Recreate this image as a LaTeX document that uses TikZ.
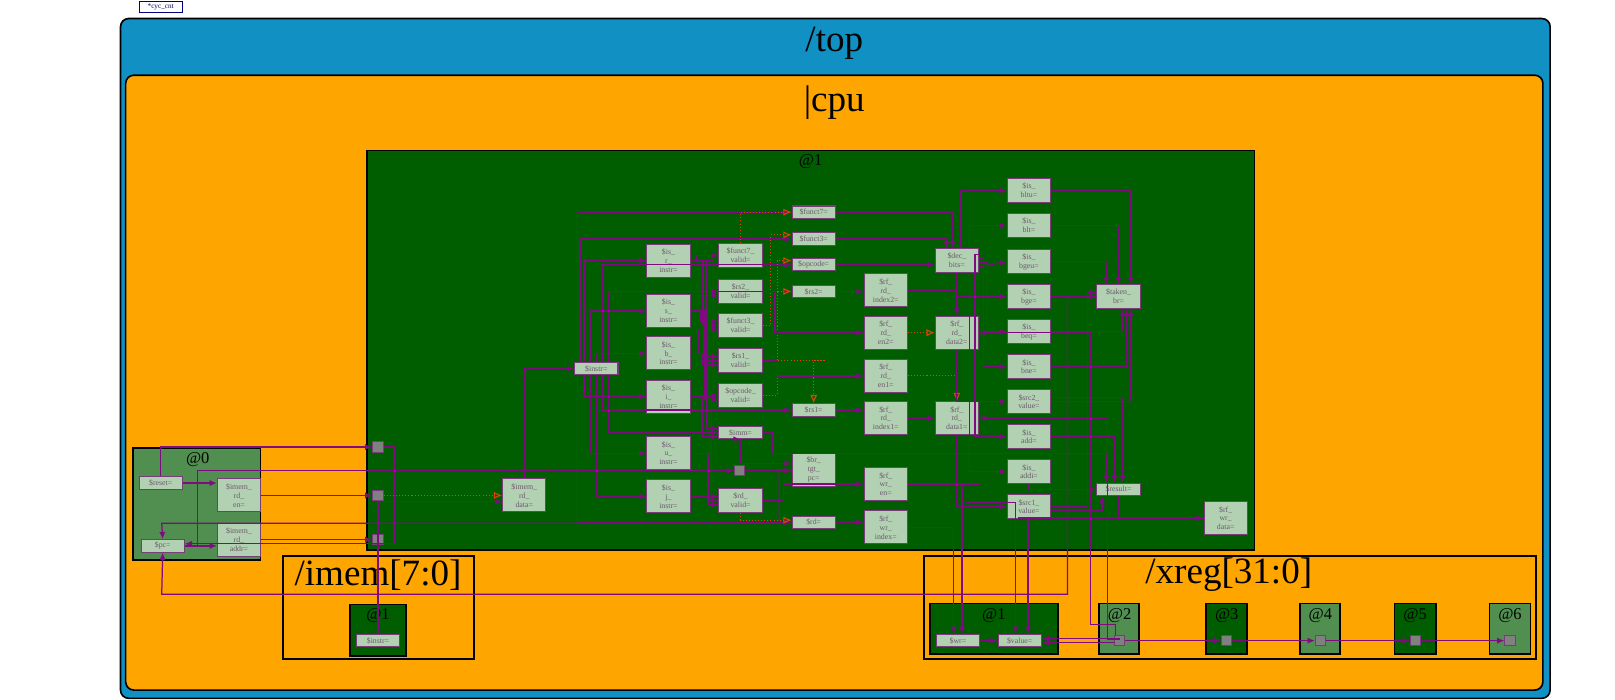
\documentclass[tikz,border=0pt]{standalone}
\usepackage{fontspec}
\setmainfont{Liberation Serif}
\usetikzlibrary{arrows.meta}
\definecolor{wire}{RGB}{128,10,128}
\definecolor{sigf}{RGB}{178,208,178}
\definecolor{sigb}{RGB}{120,60,120}
\definecolor{sigt}{RGB}{110,90,110}
\definecolor{dkg}{RGB}{0,94,0}
\definecolor{ltg}{RGB}{80,143,80}
\definecolor{org}{RGB}{255,165,0}
\definecolor{blu}{RGB}{17,144,196}
\definecolor{dotc}{RGB}{225,70,0}
\begin{document}
\begin{tikzpicture}[x=0.5pt,y=-0.5pt,
 sig/.style={draw=sigb,fill=sigf,line width=0.5pt,font=\fontsize{3.8}{4.3}\selectfont,text=sigt,align=center,inner sep=0.5pt,minimum width=21pt},
 s1/.style={sig,minimum height=6pt},
 s2/.style={sig,minimum height=11.5pt},
 s3/.style={sig,minimum height=16pt},
 e/.style={draw=wire,line width=0.6pt,-{Latex[length=3.5pt,width=3pt]}},
 d/.style={draw=dotc,densely dotted,line width=0.5pt,-{Latex[open,length=4pt,width=3.5pt]}},
 gq/.style={draw=sigb,fill=gray,minimum size=5pt,inner sep=0pt,line width=0.5pt},
 box/.style={draw=black,line width=0.8pt},
 ttl/.style={font=\fontsize{18}{18}\selectfont},
 sttl/.style={font=\fontsize{8}{8}\selectfont}]
\useasboundingbox[fill=white] (0,0) rectangle (1568,679);
% containers
\node[draw=blue!50!black,line width=0.5pt,font=\fontsize{3.5}{4}\selectfont,text=blue!40!black,minimum width=21pt,minimum height=5.5pt,inner sep=0.5pt] (cyc) at (156,6.5) {*cyc\_cnt};
\draw[box,fill=blu,rounded corners=4pt] (117,18) rectangle (1505,678);
\node[ttl] (ttop) at (810,42) {/top};
\draw[box,fill=org,rounded corners=4pt] (122,73) rectangle (1498,670);
\node[ttl] (tcpu) at (810,100) {|cpu};
\draw[box,fill=dkg] (356,146) rectangle (1218,534);
\node[sttl] (t1) at (787,157) {@1};
\draw[box,fill=ltg] (129,435) rectangle (253,544);
\node[sttl] (t0) at (192,446) {@0};
\draw[box] (275,540) rectangle (460,640);
\node[ttl] (timem) at (367,558) {/imem[7:0]};
\draw[box,fill=dkg] (340,587) rectangle (394,637);
\node[sttl] (ti1) at (367,598) {@1};
\draw[box] (897,540) rectangle (1491,640);
\node[ttl] (txreg) at (1193,558) {/xreg[31:0]};
\draw[box,fill=dkg] (903,586) rectangle (1027,635); \node[sttl] (tx1) at (965,598) {@1};
\draw[box,fill=ltg] (1067,586) rectangle (1106,635); \node[sttl] (tx2) at (1087,598) {@2};
\draw[box,fill=dkg] (1171,586) rectangle (1211,635); \node[sttl] (tx3) at (1191,598) {@3};
\draw[box,fill=ltg] (1262,586) rectangle (1301,635); \node[sttl] (tx4) at (1282,598) {@4};
\draw[box,fill=dkg] (1354,586) rectangle (1394,635); \node[sttl] (tx5) at (1374,598) {@5};
\draw[box,fill=ltg] (1446,586) rectangle (1486,635); \node[sttl] (tx6) at (1466,598) {@6};
% nodes @0
\node[s1] (reset) at (156,469) {\$reset=};
\node[s3] (imen) at (232,481) {\$imem\_\\rd\_\\en=};
\node[s1] (pc) at (158,530) {\$pc=};
\node[s3] (imaddr) at (232,524) {\$imem\_\\rd\_\\addr=};
% gray squares
\node[gq] (gq1) at (367,434) {};
\node[gq] (gq2) at (367,481) {};
\node[gq] (gq3) at (367,524) {};
\node[gq] (gq4) at (718,457) {};
% @1 nodes
\node[s3] (imdata) at (509,481) {\$imem\_\\rd\_\\data=};
\node[s1] (instr) at (579,358) {\$instr=};
\node[s3] (isr) at (649,253) {\$is\_\\r\_\\instr=};
\node[s3] (iss) at (649,302) {\$is\_\\s\_\\instr=};
\node[s3] (isb) at (649,343) {\$is\_\\b\_\\instr=};
\node[s3] (isi) at (649,385) {\$is\_\\i\_\\instr=};
\node[s3] (isu) at (649,440) {\$is\_\\u\_\\instr=};
\node[s3] (isj) at (649,482) {\$is\_\\j\_\\instr=};
\node[s2] (f7v) at (719,248) {\$funct7\_\\valid=};
\node[s2] (rs2v) at (719,283) {\$rs2\_\\valid=};
\node[s2] (f3v) at (719,316) {\$funct3\_\\valid=};
\node[s2] (rs1v) at (719,350) {\$rs1\_\\valid=};
\node[s2] (opv) at (719,384) {\$opcode\_\\valid=};
\node[s1] (imm) at (719,420) {\$imm=};
\node[s2] (rdv) at (719,486) {\$rd\_\\valid=};
\node[s1] (funct7) at (790,206) {\$funct7=};
\node[s1] (funct3) at (790,232) {\$funct3=};
\node[s1] (opcode) at (790,257) {\$opcode=};
\node[s1] (rs2) at (790,283) {\$rs2=};
\node[s1] (rs1) at (790,398) {\$rs1=};
\node[s3] (brtgt) at (790,456) {\$br\_\\tgt\_\\pc=};
\node[s1] (rd) at (790,507) {\$rd=};
\node[s3] (idx2) at (860,282) {\$rf\_\\rd\_\\index2=};
\node[s3] (en2) at (860,323) {\$rf\_\\rd\_\\en2=};
\node[s3] (en1) at (860,365) {\$rf\_\\rd\_\\en1=};
\node[s3] (idx1) at (860,406) {\$rf\_\\rd\_\\index1=};
\node[s3] (wren) at (860,470) {\$rf\_\\wr\_\\en=};
\node[s3] (wridx) at (860,512) {\$rf\_\\wr\_\\index=};
\node[s2] (dec) at (929,253) {\$dec\_\\bits=};
\node[s3] (data2) at (929,323) {\$rf\_\\rd\_\\data2=};
\node[s3] (data1) at (929,406) {\$rf\_\\rd\_\\data1=};
\node[s2] (bltu) at (999,185) {\$is\_\\bltu=};
\node[s2] (blt) at (999,219) {\$is\_\\blt=};
\node[s2] (bgeu) at (999,254) {\$is\_\\bgeu=};
\node[s2] (bge) at (999,288) {\$is\_\\bge=};
\node[s2] (beq) at (999,322) {\$is\_\\beq=};
\node[s2] (bne) at (999,356) {\$is\_\\bne=};
\node[s2] (src2) at (999,390) {\$src2\_\\value=};
\node[s2] (isadd) at (999,424) {\$is\_\\add=};
\node[s2] (isaddi) at (999,458) {\$is\_\\addi=};
\node[s2] (src1) at (999,492) {\$src1\_\\value=};
\node[s2] (taken) at (1086,288) {\$taken\_\\br=};
\node[s1] (result) at (1086,475) {\$result=};
\node[s3] (wrdata) at (1190,503) {\$rf\_\\wr\_\\data=};
% imem / xreg nodes
\node[s1] (iminstr) at (367,622) {\$instr=};
\node[s1] (wr) at (930,622) {\$wr=};
\node[s1] (value) at (990,622) {\$value=};
\node[gq] (sq2) at (1087,622) {};
\node[gq] (sq3) at (1191,622) {};
\node[gq] (sq4) at (1282,622) {};
\node[gq] (sq5) at (1374,622) {};
\node[gq] (sq6) at (1466,622) {};
\coordinate (loop) at (157,577);
\coordinate (pcup) at (157,508);
% ---- edges @0 / memory
\draw[e] (reset.east) -- (reset.east -| imen.west);
\draw[e] (reset.north) |- (gq1.west);
\draw[e] (imen) -- (gq2);
\draw[e] (imaddr) -- (gq3);
\draw[e] (pc.east) -- (pc.east -| imaddr.west);
\draw[e] (gq1.east) -- ++(10,0) |- ([yshift=1pt]pc.east);
\draw[e] (pc.east) -- ++(12,0) |- (gq4.west);
\draw[e] (brtgt.west) -- ++(-12,0) |- (pcup) -- (pc.north);
\draw[e] (taken.west) -- ++(-28,0) |- (loop) -- (pc.south);
\draw[d] (gq2) -- (imdata);
\draw[e] (iminstr.north) |- ([yshift=-3pt]imdata.west);
\draw[e] (imdata.north) |- (instr.west);
\draw[e] (gq4) -- (gq4 -| brtgt.west);
% ---- instr fan-out
\draw[e] ([xshift=-6pt]instr.north) |- (isr.west);
\draw[e] ([xshift=-3pt]instr.north) |- (iss.west);
\draw[e] ([xshift=0pt]instr.north) |- (isb.west);
\draw[e] ([xshift=-6pt]instr.south) |- (isi.west);
\draw[e] ([xshift=-3pt]instr.south) |- (isu.west);
\draw[e] ([xshift=0pt]instr.south) |- (isj.west);
\draw[e] ([xshift=-9pt]instr.north) |- (funct7.west);
\draw[e] ([xshift=-8pt]instr.north) |- (funct3.west);
\draw[e] ([xshift=3pt]instr.north) |- (opcode.west);
\draw[e] ([xshift=6pt]instr.north) |- (rs2.west);
\draw[e] ([xshift=3pt]instr.south) |- (rs1.west);
\draw[e] ([xshift=6pt]instr.south) |- (imm.west);
\draw[e] ([xshift=-9pt]instr.south) |- (rd.west);
% ---- is_* to valids
\draw[e] (isr.east) -- ++(6,0) |- (f7v.west);
\draw[e] (isr.east) -- ++(9,0) |- (rs2v.west);
\draw[e] (isr.east) -- ++(12,0) |- (f3v.west);
\draw[e] (isr.east) -- ++(15,0) |- (rs1v.west);
\draw[e] (isr.east) -- ++(18,0) |- (rdv.west);
\draw[e] (iss.east) -- ++(7,0) |- ([yshift=-2pt]rs2v.west);
\draw[e] (iss.east) -- ++(10,0) |- ([yshift=2pt]f3v.west);
\draw[e] (iss.east) -- ++(13,0) |- ([yshift=2pt]rs1v.west);
\draw[e] (iss.east) -- ++(16,0) |- ([yshift=2pt]imm.west);
\draw[e] (isb.east) -- ++(8,0) |- ([yshift=-2pt]f3v.west);
\draw[e] (isb.east) -- ++(11,0) |- ([yshift=-2pt]rs1v.west);
\draw[e] (isb.east) -- ++(14,0) |- ([yshift=-2pt]opv.west);
\draw[e] (isi.east) -- ++(8,0) |- (opv.west);
\draw[e] (isi.east) -- ++(11,0) |- ([yshift=-2pt]imm.west);
\draw[e] (isi.east) -- ++(20,0) |- ([yshift=2pt]rdv.west);
\draw[e] (isu.east) -- ++(17,0) |- ([yshift=-2pt]rdv.west);
\draw[e] (isj.east) -- (isj.east -| rdv.west);
\draw[e] (isu.east) -- ++(24,0) |- (imm.south);
\draw[e] (isr.east) -- ++(22,0) |- (opv.west);
% ---- valids to fields (dotted)
\draw[d] (f7v.north) |- (funct7.west);
\draw[d] (f3v.east) -- ++(8,0) |- ([yshift=2pt]funct3.west);
\draw[d] (opv.east) -- ++(14,0) |- ([yshift=2pt]opcode.west);
\draw[d] (rs2v) -- (rs2);
\draw[d] (rs1v.east) -- ++(60,0) -| (rs1.north);
\draw[d] (rdv.south) |- ([yshift=1pt]rd.west);
% ---- register file
\draw[e] (rs2v.east) -- ++(12,0) |- (en2.west);
\draw[e] (rs1v.east) -- ++(14,0) |- (en1.west);
\draw[e] (rdv.east) -- ++(20,0) |- (wren.west);
\draw[e] (rs2) -- (rs2 -| idx2.west);
\draw[e] (rs1) -- (rs1 -| idx1.west);
\draw[e] (rd) -- (rd -| wridx.west);
\draw[d] (en2) -- (data2);
\draw[d] (en1.east) -| (data1.north);
\draw[e] (idx2.east) -| (data2.north);
\draw[e] (idx1) -- (data1);
\draw[e] (imm.south) |- ([yshift=3pt]brtgt.west);
% ---- decode
\draw[e] (funct7.east) -| ([xshift=-2pt]dec.north);
\draw[e] (funct3.east) -| ([xshift=-5pt]dec.north);
\draw[e] (opcode) -- (opcode -| dec.west);
\draw[e] ([xshift=2pt]dec.north) |- (bltu.west);
\draw[e] ([xshift=6pt]dec.north) |- (blt.west);
\draw[e] ([yshift=-3pt]dec.east) -- (bgeu.west);
\draw[e] (dec.south) |- (bge.west);
\draw[e] ([yshift=-1pt]dec.east) -- ++(8,0) |- (beq.west);
\draw[e] ([yshift=1pt]dec.east) -- ++(4,0) |- (bne.west);
\draw[e] ([yshift=3pt]dec.east) -- ++(-4,0) |- (isadd.west);
\draw[e] ([xshift=6pt]dec.south) -- ++(0,2) |- (isaddi.west);
\draw[e] (data2.south) |- (src2.west);
\draw[e] (data1.south) |- (src1.west);
% ---- branch
\draw[e] (bltu.east) -| ([xshift=6pt]taken.north);
\draw[e] (blt.east) -| ([xshift=0pt]taken.north);
\draw[e] (bgeu.east) -| ([xshift=-6pt]taken.north);
\draw[e] (bge.east) -- (bge.east -| taken.west);
\draw[e] (beq.east) -| ([xshift=2pt]taken.south);
\draw[e] (bne.east) -| ([xshift=4pt]taken.south);
\draw[e] (src2.east) -| ([xshift=6pt]taken.south);
\draw[e] (src1.east) -- ++(35,0) |- ([yshift=2pt]taken.west);
% ---- result
\draw[e] (isadd.east) -| ([xshift=-2pt]result.north);
\draw[e] ([yshift=2pt]src2.east) -| ([xshift=2pt]result.north);
\draw[e] (imm.east) -- ++(10,0) |- ++(0,20) -| ([xshift=-6pt]result.north);
\draw[e] (isaddi.south) |- (result.west);
\draw[e] ([yshift=-2pt]src1.east) -| ([xshift=-8pt]result.south);
\draw[e] (result.south) |- (wrdata.west);
% ---- xreg
\draw[e] (wren.east) -- ++(70,0) -| ([xshift=2pt]wr.north);
\draw[e] (wridx.east) -- ++(40,0) -| ([xshift=-2pt]wr.north);
\draw[e] (wrdata.west) -- ++(-180,0) -| ([xshift=4pt]value.north);
\draw[e] ([yshift=2pt]src1.west) -- ++(-40,0) -| ([xshift=-2pt]value.north);
\draw[e] (wr) -- (value);
\draw[e] ([yshift=1pt]sq2.west) -- ([yshift=1pt]value.east);
\draw[e] ([yshift=-1pt]sq2.west) -- ([yshift=-1pt]value.east);
\draw[e] ([yshift=-2pt]sq2.north) |- ++(-12,0) |- (data1.east);
\draw[e] ([xshift=-2pt]sq2.north) -- ++(0,-10) -| ++(-24,0) |- (data2.east);
\draw[e] (sq2) -- (sq3);
\draw[e] (sq3) -- (sq4);
\draw[e] (sq4) -- (sq5);
\draw[e] (sq5) -- (sq6);
\end{tikzpicture}
\end{document}
